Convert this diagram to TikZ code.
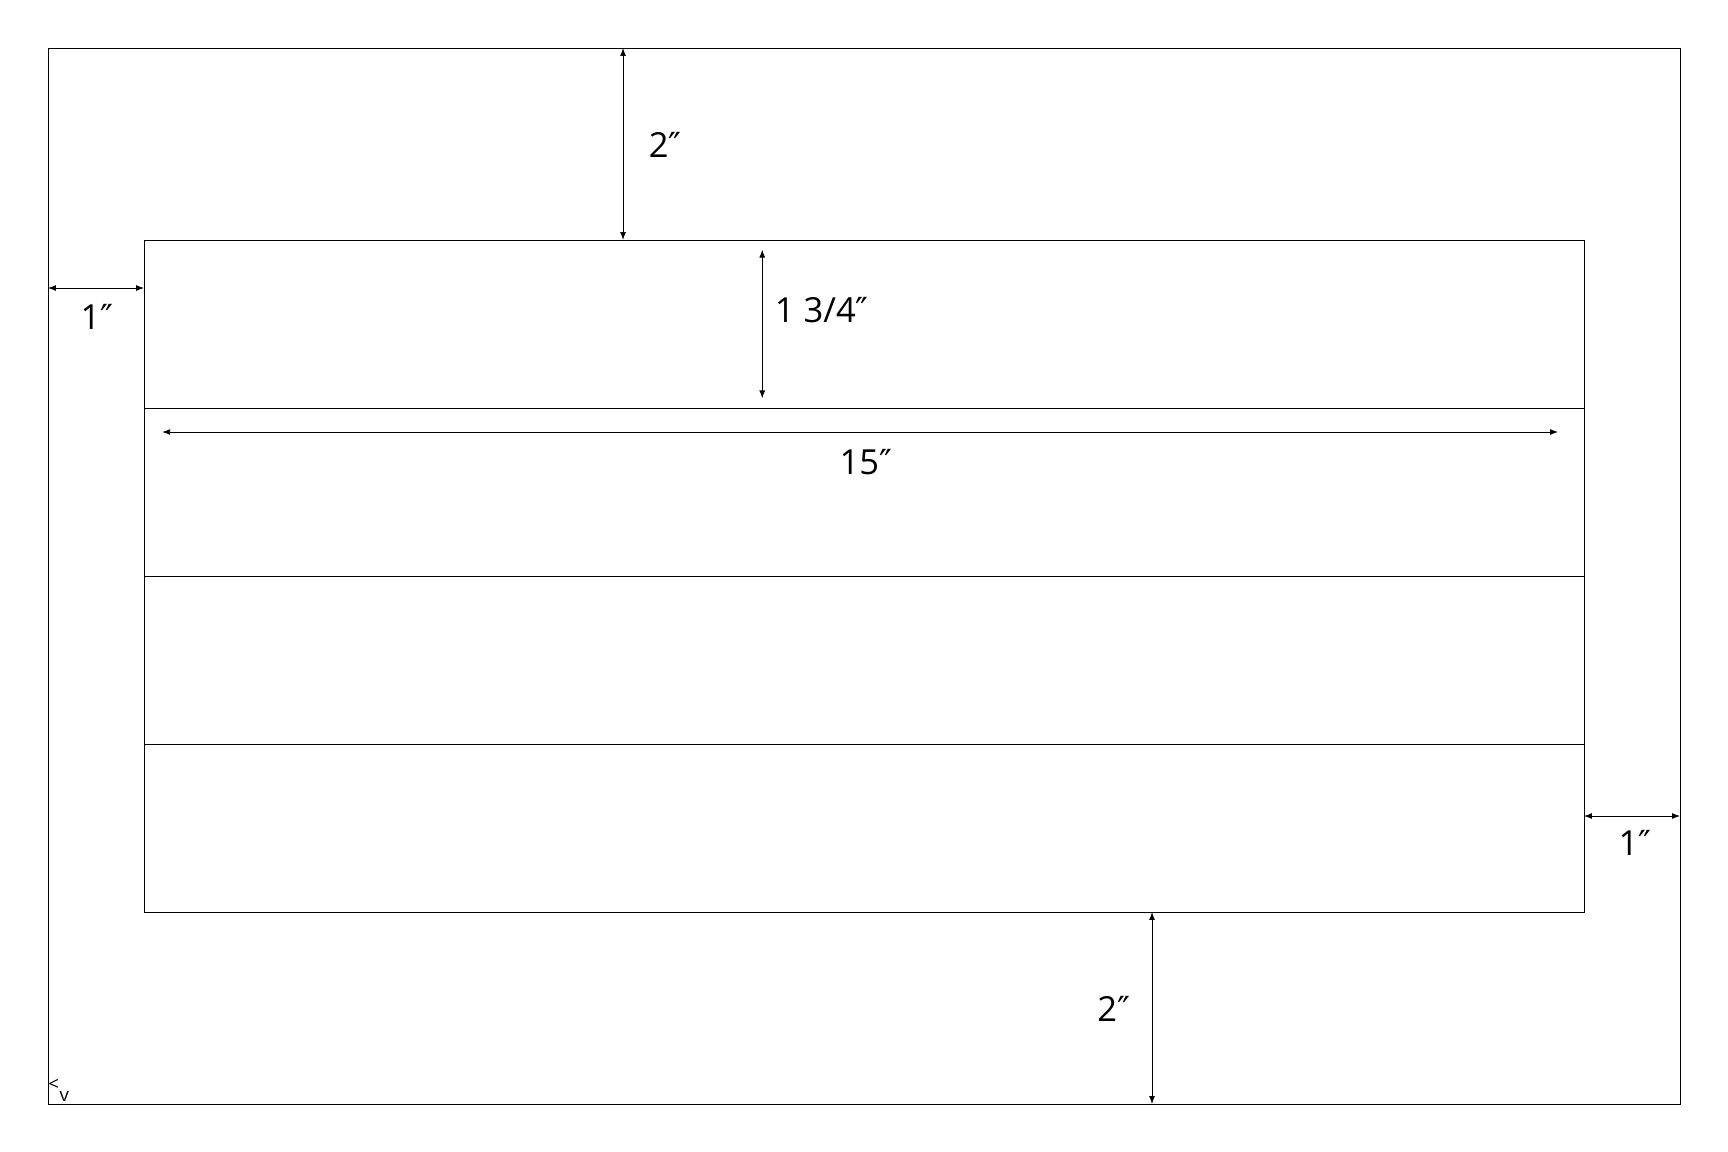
\documentclass[tikz,border=0pt]{standalone}
\usepackage{fontspec}
\setmainfont{Open Sans}
\newfontfamily\primefont{DejaVu Sans}
\usetikzlibrary{arrows.meta,positioning}
\newcommand{\inch}{{\primefont\fontsize{26}{28}\selectfont ″}}
\tikzset{
    line width=0.8pt,
    dim/.style={arrows={Latex[length=6pt,width=4.5pt]-Latex[length=6pt,width=4.5pt]}, line width=0.7pt},
    lbl/.style={font=\fontsize{26}{30}\selectfont, inner sep=0pt},
    tiny/.style={font=\fontsize{14}{16}\selectfont, inner sep=0pt}
}

\begin{document}
\begin{tikzpicture}[x=1in,y=-1in]
    \useasboundingbox (0,0) rectangle (18,12);
    % sheet and labels
    \draw (0.5,0.5) rectangle (17.5,11.5);
    \draw (1.5,2.5) rectangle (16.5,9.5);
    \foreach \y in {4.25,6,7.75}
        \draw (1.5,\y) -- (16.5,\y);

    \coordinate (top1) at (6.49,0.5);
    \coordinate (top2) at (6.49,2.5);
    \coordinate (left1) at (0.5,3);
    \coordinate (left2) at (1.5,3);
    \coordinate (right1) at (16.5,8.5);
    \coordinate (right2) at (17.5,8.5);
    \coordinate (bot1) at (12,9.5);
    \coordinate (bot2) at (12,11.5);
    \coordinate (row1) at (7.94,2.6);
    \coordinate (row2) at (7.94,4.15);
    \coordinate (wide1) at (1.69,4.5);
    \coordinate (wide2) at (16.23,4.5);

    \node[lbl] (ltop) at (6.93,1.51) {2\inch};
    \node[lbl] (lleft) at (1.01,3.3) {1\inch};
    \node[lbl] (lright) at (17.03,8.78) {1\inch};
    \node[lbl] (lbot) at (11.6,10.51) {2\inch};
    \node[lbl] (lrow) at (8.56,3.23) {1 3/4\inch};
    \node[lbl] (lwide) at (9.02,4.81) {15\inch};

    \node[tiny] (cl) at (0.56,11.3) {<};
    \node[tiny] (cv) at (0.67,11.42) {v};

    \path[dim] (top1) edge (top2);
    \path[dim] (left1) edge (left2);
    \path[dim] (right1) edge (right2);
    \path[dim] (bot1) edge (bot2);
    \path[dim] (row1) edge (row2);
    \path[dim] (wide1) edge (wide2);
\end{tikzpicture}
\end{document}
